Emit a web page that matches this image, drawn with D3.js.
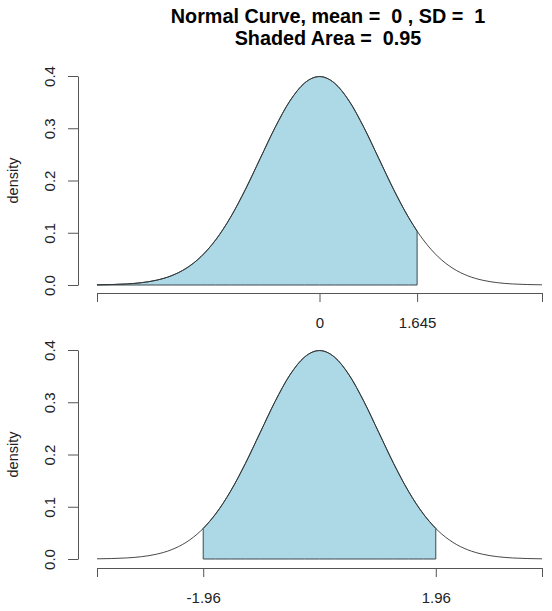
<!DOCTYPE html>
<html>
<head>
<meta charset="utf-8">
<script src="https://cdn.jsdelivr.net/npm/d3@7"></script>
<style>
  body { margin: 0; background: #fff; }
  svg text { font-family: "Liberation Sans", Arial, Helvetica, sans-serif; }
</style>
</head>
<body>
<div id="chart"></div>
<script>
// standard normal curve, read at steps of 0.25
var zValues = [-3.75, -3.5, -3.25, -3, -2.75, -2.5, -2.25, -2, -1.75, -1.5, -1.25, -1, -0.75, -0.5, -0.25,
               0, 0.25, 0.5, 0.75, 1, 1.25, 1.5, 1.75, 2, 2.25, 2.5, 2.75, 3, 3.25, 3.5, 3.75];
var densities = [0.000353, 0.000873, 0.002029, 0.004432, 0.009094, 0.017528, 0.031740, 0.053991,
                 0.086277, 0.129518, 0.182649, 0.241971, 0.301137, 0.352065, 0.386668,
                 0.398942, 0.386668, 0.352065, 0.301137, 0.241971, 0.182649, 0.129518, 0.086277,
                 0.053991, 0.031740, 0.017528, 0.009094, 0.004432, 0.002029, 0.000873, 0.000353];

// cut points and their densities
var topBounds = [-3.75, 1.645];
var topBoundDensity = [0.000353, 0.103136];
var bottomBounds = [-1.96, 1.96];
var bottomBoundDensity = [0.058441, 0.058441];

var topTicks = [-3.75, 0, 1.645, 3.75];
var topTickLabels = ["", "0", "1.645", ""];
var bottomTicks = [-3.75, -1.96, 1.96, 3.75];
var bottomTickLabels = ["", "-1.96", "1.96", ""];
var yTicks = [0, 0.1, 0.2, 0.3, 0.4];

var titleLines = ["Normal Curve, mean =  0 , SD =  1", "Shaded Area =  0.95"];

var width = 552, height = 611;
var svg = d3.select("#chart").append("svg")
    .attr("width", width)
    .attr("height", height);

var x = d3.scaleLinear().domain([-3.75, 3.75]).range([97, 542]);

svg.selectAll("text.title").data(titleLines).enter().append("text")
    .attr("class", "title")
    .attr("x", 328)
    .attr("y", function(d, i) { return 23 + i * 22; })
    .attr("text-anchor", "middle")
    .style("white-space", "pre")
    .style("font-weight", "bold")
    .style("font-size", "19.8px")
    .text(function(d) { return d; });

function drawPanel(top, bottom, axisY, bounds, boundDens, ticks, tickLabels) {
    var y = d3.scaleLinear().domain([0, 0.4]).range([bottom, top]);

    var pts = zValues.map(function(z, i) { return {z: z, d: densities[i]}; });
    bounds.forEach(function(b, i) {
        if (!pts.some(function(p) { return p.z === b; })) pts.push({z: b, d: boundDens[i]});
    });
    pts.sort(function(a, b) { return a.z - b.z; });

    var shaded = pts.filter(function(p) { return p.z >= bounds[0] && p.z <= bounds[1]; });

    var area = d3.area()
        .x(function(d) { return x(d.z); })
        .y0(y(0))
        .y1(function(d) { return y(d.d); })
        .curve(d3.curveMonotoneX);

    var line = d3.line()
        .x(function(d) { return x(d.z); })
        .y(function(d) { return y(d.d); })
        .curve(d3.curveMonotoneX);

    // shaded region with its outline
    svg.append("path").datum(shaded)
        .attr("d", function(d) { return area(d) + "Z"; })
        .attr("fill", "lightblue")
        .attr("stroke", "#3a4a50")
        .attr("stroke-width", 1);

    // full curve
    svg.append("path").datum(pts)
        .attr("d", line)
        .attr("fill", "none")
        .attr("stroke", "#333")
        .attr("stroke-width", 0.9);

    // y axis
    var ya = svg.append("g")
        .attr("transform", "translate(78,0)")
        .call(d3.axisLeft(y).tickValues(yTicks).tickFormat(d3.format(".1f")).tickSize(10).tickSizeOuter(0));
    ya.select(".domain").attr("stroke", "#555");
    ya.selectAll(".tick line").attr("stroke", "#555");
    ya.selectAll(".tick text")
        .attr("x", 0).attr("dy", 0)
        .attr("transform", "translate(-23,0) rotate(-90)")
        .attr("text-anchor", "middle")
        .attr("fill", "#222")
        .style("font-size", "15px");

    svg.append("text")
        .attr("transform", "translate(18," + ((top + bottom) / 2) + ") rotate(-90)")
        .attr("text-anchor", "middle")
        .style("font-size", "14.5px")
        .attr("fill", "#222")
        .text("density");

    // x axis
    var xa = svg.append("g")
        .attr("transform", "translate(0," + axisY + ")")
        .call(d3.axisBottom(x).tickValues(ticks)
            .tickFormat(function(d, i) { return tickLabels[i]; })
            .tickSize(9).tickSizeOuter(0).tickPadding(15));
    xa.select(".domain").attr("stroke", "#555");
    xa.selectAll(".tick line").attr("stroke", "#555");
    xa.selectAll(".tick text")
        .attr("fill", "#222")
        .style("font-size", "15px");
}

drawPanel(76, 285, 293, topBounds, topBoundDensity, topTicks, topTickLabels);
drawPanel(350, 559, 568, bottomBounds, bottomBoundDensity, bottomTicks, bottomTickLabels);
</script>
</body>
</html>
